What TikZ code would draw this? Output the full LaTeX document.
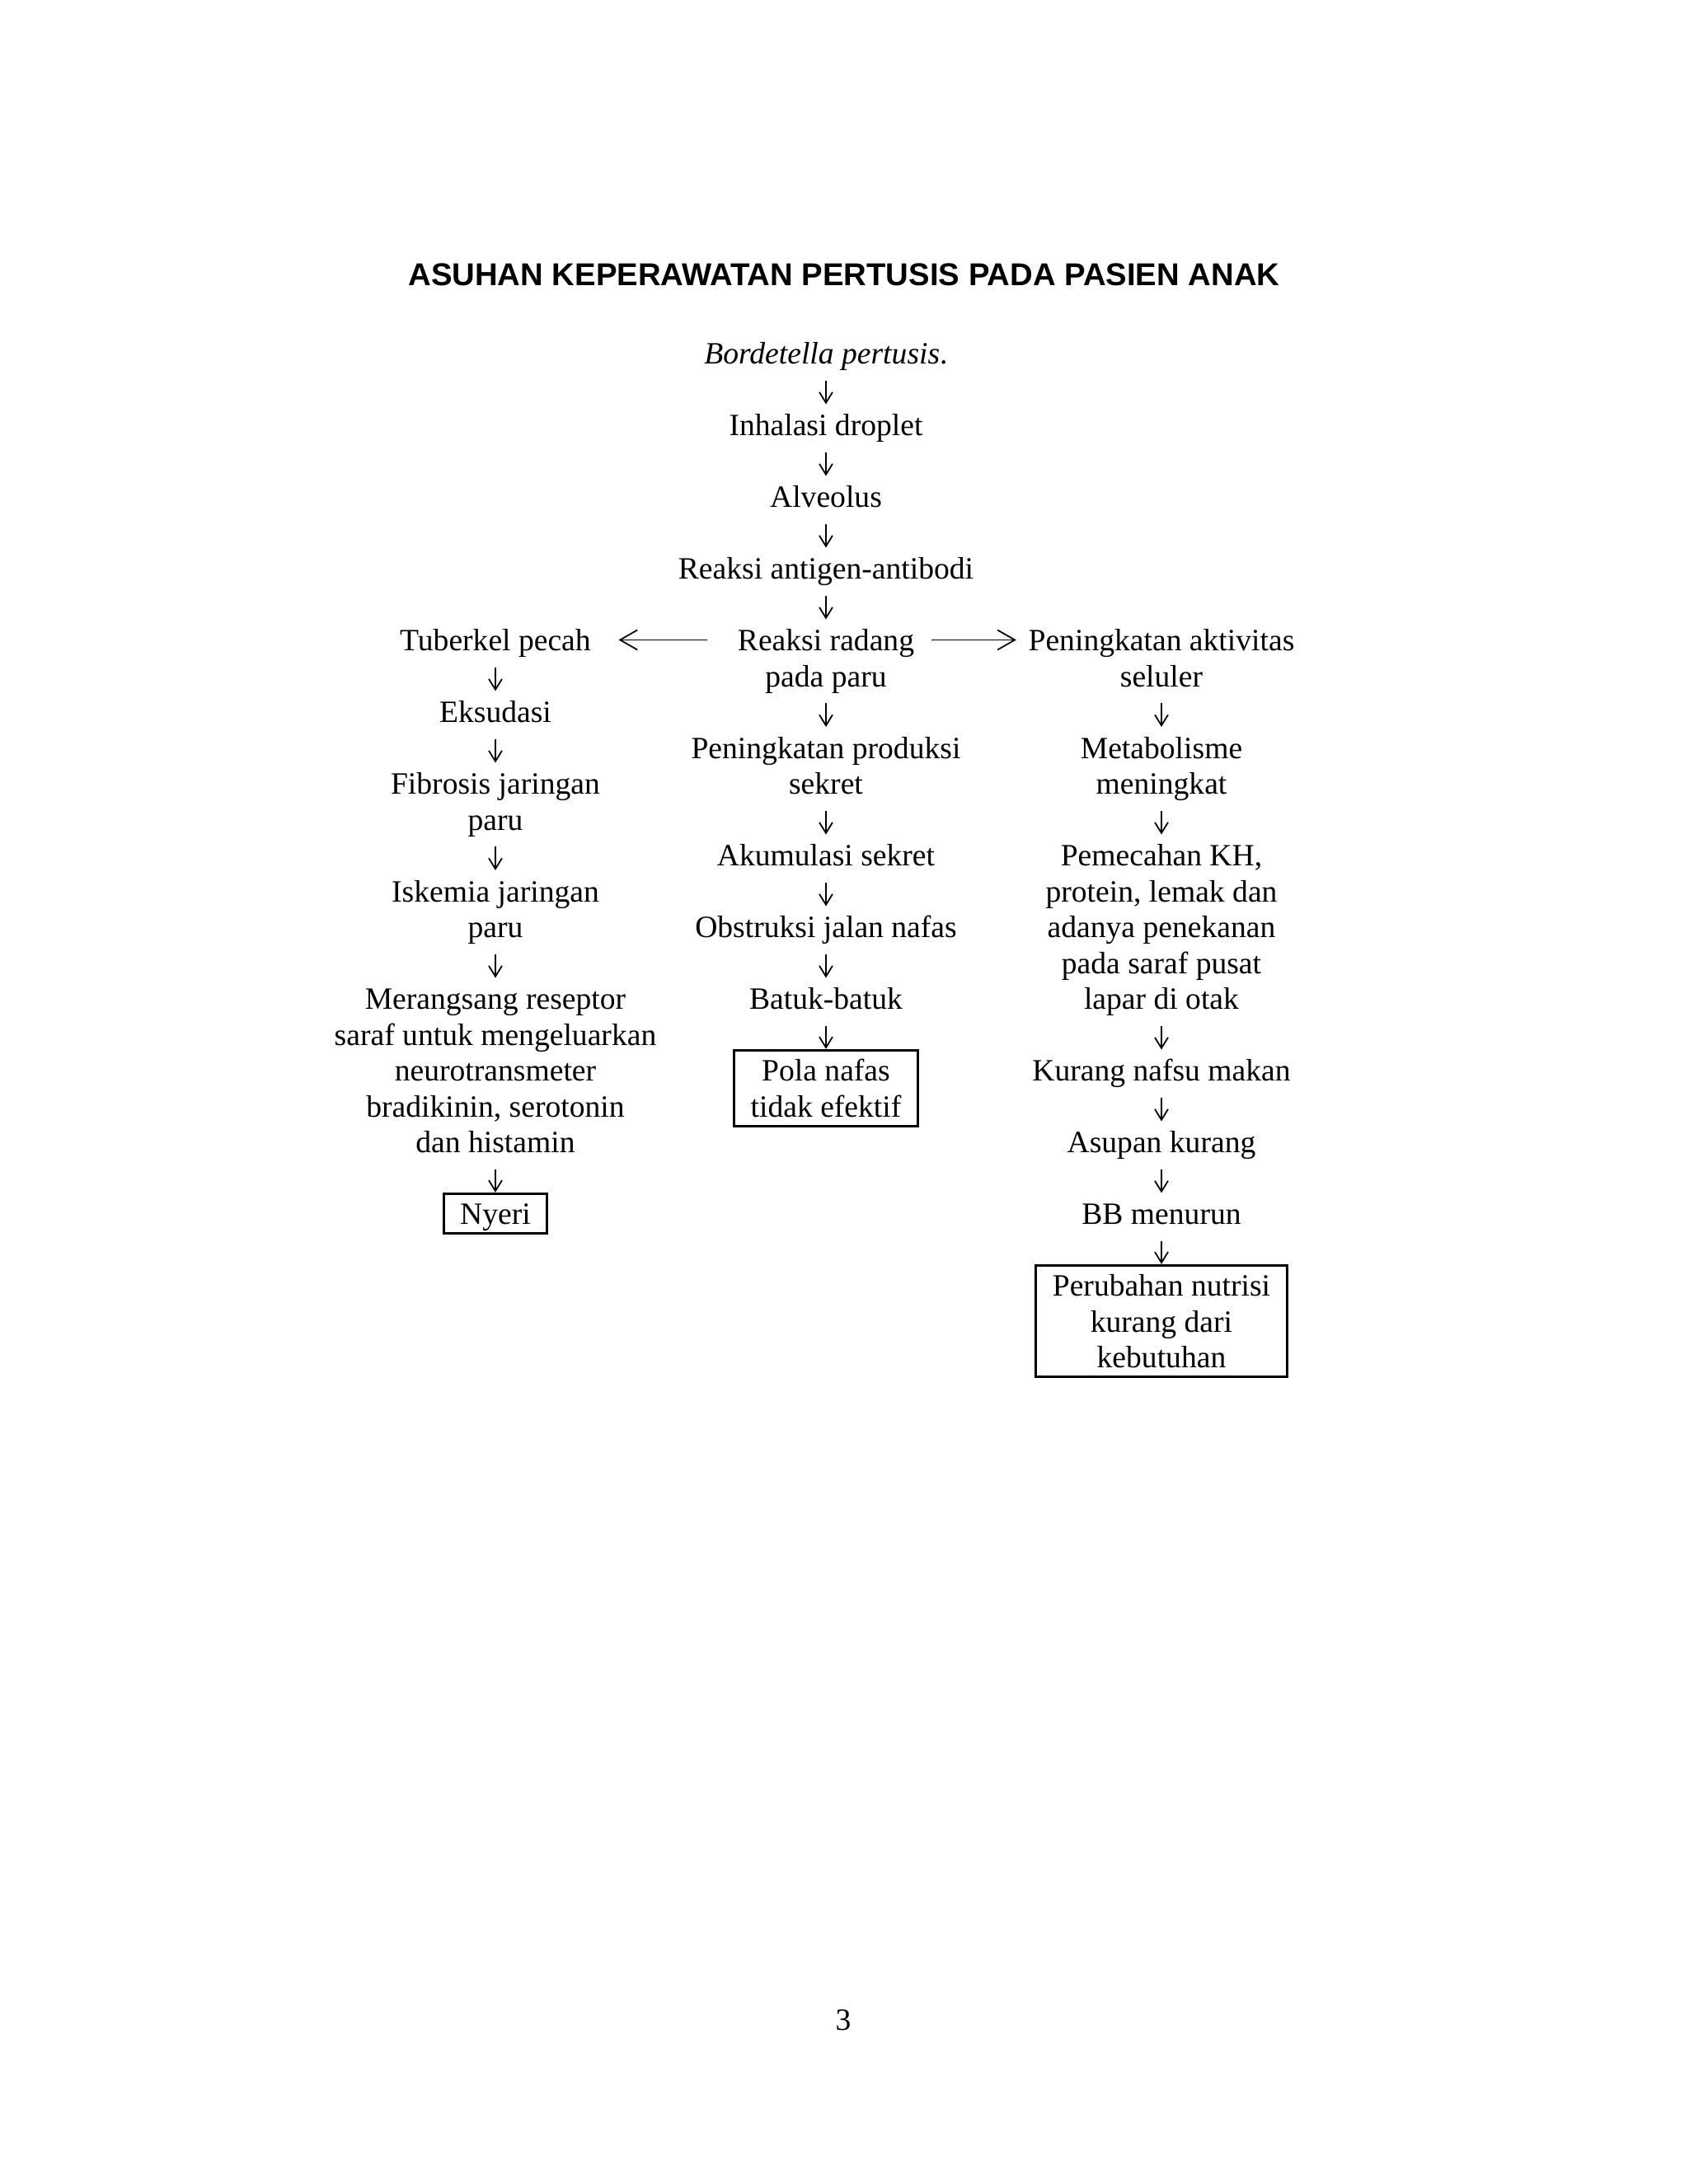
\documentclass[tikz,border=0pt]{standalone}
\usepackage{fontspec}
\setmainfont{Liberation Serif}
\newfontfamily\headfont{Liberation Sans}
\usetikzlibrary{arrows.meta}

\newlength\lineh
\setlength\lineh{4.35mm}
\newlength\lcol
\setlength\lcol{-40.1mm}
\newlength\rcol
\setlength\rcol{40.7mm}

\begin{document}
\begin{tikzpicture}[
    font=\fontsize{10.7pt}{4.35mm}\selectfont,
    txt/.style={anchor=base, align=center, inner sep=0pt,
      text height=3.75mm, text depth=1.1mm},
    nrows/.style={text height={(#1-1)*\lineh+3.75mm}, yshift={-(#1-1)*\lineh}},
    dxbox/.style={txt, draw, line width=0.8pt, inner xsep=2mm},
    dn/.style={line width=0.5pt, shorten <=0.85mm,
      -{Straight Barb[length=1.3mm,width=1.6mm]}},
    side/.style={line width=0.5pt,
      -{Straight Barb[length=2.1mm,width=2.4mm]}}
  ]
  \path[use as bounding box, fill=white] (-100.2mm,44.17mm) rectangle (104.6mm,-220.83mm);

  \node[anchor=base, font=\headfont\bfseries\fontsize{10.9pt}{4.35mm}\selectfont] (title)
    at (2.2mm,9.5mm) {ASUHAN KEPERAWATAN PERTUSIS PADA PASIEN ANAK};

  \begin{scope}
    \node[txt] (bord) at (0,0) {\textit{Bordetella pertusis}.};
    \node[txt] (inhal) at (0,-2*\lineh) {Inhalasi droplet};
    \node[txt] (alv) at (0,-4*\lineh) {Alveolus};
    \node[txt] (antigen) at (0,-6*\lineh) {Reaksi antigen-antibodi};
    \node[txt, nrows=2] (radang) at (0,-8*\lineh) {Reaksi radang\\pada paru};
    \node[txt, nrows=2] (produksi) at (0,-11*\lineh) {Peningkatan produksi\\sekret};
    \node[txt] (akum) at (0,-14*\lineh) {Akumulasi sekret};
    \node[txt] (obstr) at (0,-16*\lineh) {Obstruksi jalan nafas};
    \node[txt] (batuk) at (0,-18*\lineh) {Batuk-batuk};
    \node[dxbox, nrows=2] (pola) at (0,-20*\lineh) {Pola nafas\\tidak efektif};
  \end{scope}

  \begin{scope}
    \node[txt] (tuberkel) at (\lcol,-8*\lineh) {Tuberkel pecah};
    \node[txt] (eksudasi) at (\lcol,-10*\lineh) {Eksudasi};
    \node[txt, nrows=2] (fibrosis) at (\lcol,-12*\lineh) {Fibrosis jaringan\\paru};
    \node[txt, nrows=2] (iskemia) at (\lcol,-15*\lineh) {Iskemia jaringan\\paru};
    \node[txt, nrows=5] (merangsang) at (\lcol,-18*\lineh)
      {Merangsang reseptor\\saraf untuk mengeluarkan\\neurotransmeter\\bradikinin, serotonin\\dan histamin};
    \node[dxbox] (nyeri) at (\lcol,-24*\lineh) {Nyeri};
  \end{scope}

  \begin{scope}
    \node[txt, nrows=2] (aktivitas) at (\rcol,-8*\lineh) {Peningkatan aktivitas\\seluler};
    \node[txt, nrows=2] (metab) at (\rcol,-11*\lineh) {Metabolisme\\meningkat};
    \node[txt, nrows=5] (pemecahan) at (\rcol,-14*\lineh)
      {Pemecahan KH,\\protein, lemak dan\\adanya penekanan\\pada saraf pusat\\lapar di otak};
    \node[txt] (kurang) at (\rcol,-20*\lineh) {Kurang nafsu makan};
    \node[txt] (asupan) at (\rcol,-22*\lineh) {Asupan kurang};
    \node[txt] (bb) at (\rcol,-24*\lineh) {BB menurun};
    \node[dxbox, nrows=3] (perubahan) at (\rcol,-26*\lineh)
      {Perubahan nutrisi\\kurang dari\\kebutuhan};
  \end{scope}

  \foreach \a/\b in {bord/inhal, inhal/alv, alv/antigen, antigen/radang,
      radang/produksi, produksi/akum, akum/obstr, obstr/batuk, batuk/pola,
      tuberkel/eksudasi, eksudasi/fibrosis, fibrosis/iskemia,
      iskemia/merangsang, merangsang/nyeri,
      aktivitas/metab, metab/pemecahan, pemecahan/kurang, kurang/asupan,
      asupan/bb, bb/perubahan} {
    \draw[dn] (\a.south) -- (\b.north);
  }

  \draw[side, shorten <=3.6mm, shorten >=3.3mm] (radang.west |- tuberkel.east) -- (tuberkel.east);
  \draw[side, shorten <=2mm, shorten >=1.4mm] (radang.east |- tuberkel.east) -- (aktivitas.west |- tuberkel.east);

  \node[anchor=base] (pgno) at (2.1mm,-202.13mm) {3};
\end{tikzpicture}
\end{document}
